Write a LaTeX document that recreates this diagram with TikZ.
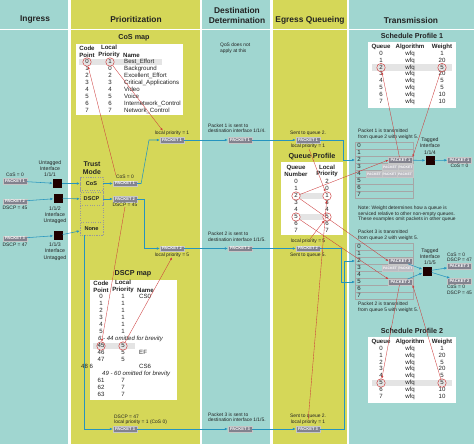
\documentclass[tikz,border=0pt]{standalone}
\usepackage{fontspec}
\setmainfont{Liberation Sans}
\usetikzlibrary{arrows.meta,positioning}

\definecolor{tealbg}{RGB}{160,214,208}
\definecolor{yelbg}{RGB}{213,215,88}
\definecolor{flow}{RGB}{38,148,190}
\definecolor{hit}{RGB}{205,60,60}
\definecolor{pktgray}{RGB}{130,130,142}
\definecolor{rowgray}{RGB}{228,228,228}
\definecolor{ink}{RGB}{35,35,35}

\begin{document}
\begin{tikzpicture}[x=1pt, y=-1pt, text=ink,
        colhead/.style={font=\fontsize{8.4}{10}\selectfont\bfseries, align=center},
        maptitle/.style={font=\fontsize{7.2}{8}\selectfont\bfseries},
        thead/.style={font=\fontsize{6.1}{6.7}\selectfont\bfseries, align=center, inner sep=0pt},
        tcell/.style={font=\fontsize{6.1}{6.5}\selectfont, inner sep=0pt, text height=4.4pt, text depth=1.3pt},
        tital/.style={tcell, font=\fontsize{6}{6.5}\selectfont\itshape},
        remark/.style={font=\fontsize{4.9}{5.7}\selectfont, align=left, inner sep=0pt},
        portlbl/.style={font=\fontsize{5.2}{6.2}\selectfont, align=center, inner sep=0pt},
        pkt/.style={fill=pktgray, draw=white!55!gray, line width=0.3pt, text=white, font=\fontsize{4.1}{4.1}\selectfont\bfseries, minimum width=24pt, minimum height=5.5pt, inner sep=0pt},
        minipkt/.style={pkt, fill=pktgray!55!white, minimum width=15.5pt, font=\fontsize{3.4}{3.4}\selectfont\bfseries},
        iface/.style={fill=black!88!red, minimum size=9pt, inner sep=0pt},
        trustcell/.style={draw=black!40, dotted, line width=0.4pt, minimum width=23pt, minimum height=13pt, inner sep=0pt, font=\fontsize{5.6}{6.5}\selectfont\bfseries},
        ring/.style={circle, draw=hit, line width=0.45pt, minimum size=8.5pt, inner sep=0pt},
        flowto/.style={draw=flow, line width=0.55pt, -{Latex[length=3pt,width=2.6pt]}},
        lookup/.style={draw=hit, line width=0.35pt, -{Latex[length=2.6pt,width=2.2pt]}},
        qrow/.style={draw=black!35, line width=0.35pt}
    ]
    \useasboundingbox (0,0) rectangle (474,444);

    % Columns
    \fill[white] (0,0) rectangle (474,444);
    \fill[tealbg] (0,0) rectangle (68,444);
    \fill[yelbg] (71,0) rectangle (200,444);
    \fill[tealbg] (202,0) rectangle (270,444);
    \fill[yelbg] (273,0) rectangle (347,444);
    \fill[tealbg] (349,0) rectangle (474,444);
    \draw[white, line width=0.5pt] (0,29) -- (474,29);

    % Headers
    \node[colhead] at (35,20) {Ingress};
    \node[colhead] at (136,19) {Prioritization};
    \node[colhead] at (237,15) {Destination\\Determination};
    \node[colhead] at (310,20) {Egress Queueing};
    \node[colhead] at (411,20) {Transmission};

    % Ingress
    \node[pkt] (in1) at (15,181) {PACKET 1};
    \node[remark, above=1.5pt of in1] {CoS = 0};
    \node[pkt] (in2) at (15,201.5) {PACKET 2};
    \node[remark, below=1pt of in2] {DSCP = 45};
    \node[pkt] (in3) at (15,238.5) {PACKET 3};
    \node[remark, below=1pt of in3] {DSCP = 47};

    \node[iface] (port1) at (57.5,183.5) {};
    \node[iface] (port2) at (58,198.5) {};
    \node[iface] (port3) at (58,235.5) {};
    \node[portlbl] at (50,168.5) {Untagged\\Interface\\1/1/1};
    \node[portlbl] at (55,215) {1/1/2\\Interface\\Untagged};
    \node[portlbl] at (55,251.5) {1/1/3\\Interface\\Untagged};

    % CoS map
    \node[maptitle] at (134,38) {CoS map};
    \fill[white] (76,44) rectangle (183,115);
    \fill[rowgray] (79,59) rectangle (162,65);
    \node[thead] at (87,51.5) {Code\\Point};
    \node[thead] at (109,51.5) {Local\\Priority};
    \node[thead, anchor=west] at (123,55) {Name};
    \foreach \pri/\nm [count=\i from 0] in {1/Best\_Effort, 0/Background, 2/Excellent\_Effort,
            3/Critical\_Applications, 4/Video, 5/Voice, 6/Internetwork\_Control, 7/Network\_Control} {
        \node[tcell] at (87,62+7*\i) {\i};
        \node[tcell] at (110,62+7*\i) {\pri};
        \node[tcell, anchor=west] at (124,62+7*\i) {\nm};
    }
    \node[ring] (cos0) at (87,62) {};
    \node[ring] (cospri1) at (110,62) {};

    % Trust mode
    \node[font=\fontsize{6.9}{7.8}\selectfont\bfseries, align=center] at (92,168) {Trust\\Mode};
    \draw[draw=black!40, dotted, line width=0.4pt] (80,177) rectangle (103,235);
    \node[trustcell] (tcos) at (91.5,183.5) {CoS};
    \node[trustcell] (tdscp) at (91.5,199) {DSCP};
    \node[trustcell] (tnone) at (91.5,228.5) {None};

    \node[pkt] (pc1) at (125,183.5) {PACKET 1};
    \node[remark, above=1.5pt of pc1] (pc1cos) {CoS = 0};
    \node[pkt] (pc2) at (125,199) {PACKET 2};
    \node[remark, below=1pt of pc2] (pc2dscp) {DSCP = 45};
    \node[pkt] (pq1) at (172,140) {PACKET 1};
    \node[remark, above=1.5pt of pq1] (pq1lp) {local priority = 1};
    \node[pkt] (pq2) at (172,248.5) {PACKET 2};
    \node[remark, below=1pt of pq2] (pq2lp) {local priority = 5};

    % DSCP map
    \node[maptitle] at (133,274) {DSCP map};
    \fill[white] (90,280) rectangle (177,400);
    \fill[rowgray] (93,343) rectangle (135,349);
    \node[thead] at (101,286.5) {Code\\Point};
    \node[thead] at (123,286.5) {Local\\Priority};
    \node[thead, anchor=west] at (137,290) {Name};
    \foreach \y/\c/\p/\n in {297/0/1/CS0, 304/1/1/{}, 311/2/1/{}, 318/3/1/{}, 325/4/1/{}, 332/5/1/{},
            346/45/5/{}, 353/46/5/EF, 360/47/5/{}, 381/61/7/{}, 388/62/7/{}, 395/63/7/{}} {
        \node[tcell] at (101,\y) {\c};
        \node[tcell] at (123,\y) {\p};
        \node[tcell, anchor=west] at (139,\y) {\n};
    }
    \node[tital, anchor=west] at (98,339) {6 - 44 omitted for brevity};
    \node[tcell, anchor=west] at (81,367) {48 6};
    \node[tcell, anchor=west] at (139,367) {CS6};
    \node[tital, anchor=west] at (102,374) {49 - 60 omitted for brevity};
    \node[ring] (dscp45) at (101,346) {};
    \node[ring] (dscppri5) at (123,346) {};

    \node[pkt] (pq3) at (125,429) {PACKET 3};
    \node[remark, anchor=south west] (pq3lp) at (114,425) {DSCP = 47\\local priority = 1 (CoS 0)};

    % Destination determination
    \node[remark, anchor=north west] at (220,43) {QoS does not\\apply at this};
    \node[pkt] (dd1) at (240,140) {PACKET 1};
    \node[remark, anchor=south west] at (208,133) {Packet 1 is sent to\\destination interface 1/1/4.};
    \node[pkt] (dd2) at (240,248.5) {PACKET 2};
    \node[remark, anchor=south west] at (208,241.5) {Packet 2 is sent to\\destination interface 1/1/5.};
    \node[pkt] (dd3) at (240,429) {PACKET 3};
    \node[remark, anchor=south west] at (208,422) {Packet 3 is sent to\\destination interface 1/1/5.};

    % Egress queueing
    \node[pkt] (eq1) at (308,140) {PACKET 1};
    \node[remark, above=1.5pt of eq1] {Sent to queue 2.};
    \node[remark, below=1pt of eq1] (eq1lp) {local priority = 1};

    \node[maptitle] at (312,157) {Queue Profile};
    \fill[white] (281,162) rectangle (343,235);
    \fill[rowgray] (300,192.5) rectangle (323,198.5);
    \fill[rowgray] (300,213.5) rectangle (323,219.5);
    \node[thead] at (296,171) {Queue\\Number};
    \node[thead] at (327,171) {Local\\Priority};
    \foreach \lp [count=\q from 0] in {2,0,1,3,4,5,6,7} {
        \node[tcell] at (296,182+7*\q) {\q};
        \node[tcell] at (327,182+7*\q) {\lp};
    }
    \node[ring] (qpq2) at (296,196) {};
    \node[ring] (qpl1) at (327,196) {};
    \node[ring] (qpq5) at (296,217) {};
    \node[ring] (qpl5) at (327,217) {};

    \node[pkt] (eq2) at (308,248.5) {PACKET 2};
    \node[remark, above=1.5pt of eq2] (eq2lp) {local priority = 5};
    \node[remark, below=1pt of eq2] {Sent to queue 5.};
    \node[pkt] (eq3) at (308,429) {PACKET 3};
    \node[remark, above=1.5pt of eq3] (eq3lp) {local priority = 1};
    \node[remark, above=1pt of eq3lp] {Sent to queue 2.};

    % Transmission: egress queues
    \foreach \i in {0,...,7} {
        \draw[qrow] (355,142.5+7*\i) rectangle (413,149.5+7*\i);
        \node[tcell] at (359,146+7*\i) {\i};
        \draw[qrow] (355,243.5+7*\i) rectangle (413,250.5+7*\i);
        \node[tcell] at (359,247+7*\i) {\i};
    }
    \coordinate (up2) at (355,160);
    \coordinate (low2) at (355,261);
    \coordinate (low5) at (355,282);

    \node[pkt] (tq1) at (400.5,160) {PACKET 1};
    \node[minipkt] at (390,167) {PACKET};
    \node[minipkt] at (405.5,167) {PACKET};
    \node[minipkt] at (374,174) {PACKET};
    \node[minipkt] at (389.5,174) {PACKET};
    \node[minipkt] at (405,174) {PACKET};
    \node[pkt] (tq3) at (400.5,261) {PACKET 3};
    \node[minipkt] at (390,268) {PACKET};
    \node[minipkt] at (405.5,268) {PACKET};
    \node[pkt] (tq2) at (400.5,282) {PACKET 2};

    \node[iface] (port4) at (430,160.5) {};
    \node[portlbl, above=1.5pt of port4] {Tagged\\Interface\\1/1/4};
    \node[pkt] (out1) at (459.5,160) {PACKET 1};
    \node[remark, below=1pt of out1] {CoS = 0};

    \node[iface] (port5) at (427,271) {};
    \node[portlbl, above=1.5pt of port5, xshift=3pt] {Tagged\\Interface\\1/1/5};
    \node[pkt] (out3) at (459.5,266) {PACKET 3};
    \node[remark, above=1pt of out3] {CoS = 0\\DSCP = 47};
    \node[pkt] (out2) at (459.5,281) {PACKET 2};
    \node[remark, below=1pt of out2] {CoS = 0\\DSCP = 45};

    \node[remark, anchor=west] at (358,134.5) {Packet 1 is transmitted\\from queue 2 with weight 5.};
    \node[remark, anchor=west] at (358,214) {Note: Weight determines how a queue is\\serviced relative to other non-empty queues.\\These examples omit packets in other queue};
    \node[remark, anchor=west] at (358,235.5) {Packet 3 is transmitted\\from queue 2 with weight 5.};
    \node[remark, anchor=west] at (358,307.5) {Packet 2 is transmitted\\from queue 5 with weight 5.};

    % Schedule profiles
    \foreach \ty/\hrow/\pname in {36/2/1, 331/5/2} {
        \node[maptitle] at (412,\ty) {Schedule Profile \pname};
        \fill[white] (368,\ty+6) rectangle (456,\ty+72);
        \fill[rowgray] (372,\ty+14.6+6.8*\hrow) rectangle (452,\ty+21.4+6.8*\hrow);
        \node[thead] at (381,\ty+11) {Queue};
        \node[thead] at (410,\ty+11) {Algorithm};
        \node[thead] at (442,\ty+11) {Weight};
        \foreach \w [count=\q from 0] in {1,20,5,20,5,5,10,10} {
            \node[tcell] at (381,\ty+18+6.8*\q) {\q};
            \node[tcell] at (410,\ty+18+6.8*\q) {wfq};
            \node[tcell] at (442,\ty+18+6.8*\q) {\w};
        }
        \node[ring] (sq\pname) at (381,\ty+18+6.8*\hrow) {};
        \node[ring] (sw\pname) at (442,\ty+18+6.8*\hrow) {};
    }

    % Packet flow
    \draw[flowto] (in1) -- (port1);
    \draw[flowto] (in2) -- (port2);
    \draw[flowto] (in3) -- (port3);
    \draw[flowto] (port1) -- (tcos);
    \draw[flowto] (port2) -- (tdscp);
    \draw[flowto] (port3) -- (tnone);
    \draw[flowto] (tcos) -- (pc1);
    \draw[flowto] (tdscp) -- (pc2);
    \draw[flowto] (pc1.east) -- ++(4,0) -- (149,140) -- (pq1.west);
    \draw[flowto] (pc2.east) -- (144,199) -- (144,248.5) -- (pq2.west);
    \draw[flowto] ([xshift=4pt]tnone.south west) |- (pq3.west);
    \draw[flowto] (pq1) -- (dd1);
    \draw[flowto] (dd1) -- (eq1);
    \draw[flowto] (eq1.east) -- (343,140) |- (up2);
    \draw[flowto] (pq2) -- (dd2);
    \draw[flowto] (dd2) -- (eq2);
    \draw[flowto] (eq2.east) -- (341,248.5) |- (low5);
    \draw[flowto] (pq3) -- (dd3);
    \draw[flowto] (dd3) -- (eq3);
    \draw[flowto] (eq3.east) -- (344.5,429) |- (low2);
    \draw[flowto] (tq1) -- (port4);
    \draw[flowto] (port4) -- (out1);
    \draw[flowto] (tq3) -- (port5);
    \draw[flowto] (tq2) -- (port5);
    \draw[flowto] (port5) -- (out3);
    \draw[flowto] (port5) -- (out2);

    % Lookups
    \draw[lookup] (pc1cos.north west) -- (cos0);
    \draw[lookup] (cospri1) -- (pq1lp.165);
    \draw[lookup] (pc2dscp.south) -- (dscp45);
    \draw[lookup] (dscppri5) -- (pq2lp.south);
    \draw[lookup] (eq1lp) -- (qpl1);
    \draw[lookup] (eq2lp) -- (qpl5);
    \draw[lookup] (eq3lp) -- (qpl1);
    \draw[lookup] (qpq2) -- (tq1.west);
    \draw[lookup] (qpq2) -- (tq3.west);
    \draw[lookup] (qpq5) -- (tq2.north west);
    \draw[lookup] (tq1.110) -- (sq1);
    \draw[lookup] (sw1) -- (tq1.north east);
    \draw[lookup] (tq2.250) -- (sq2);
    \draw[lookup] (sw2) -- (tq2.south east);
\end{tikzpicture}
\end{document}
